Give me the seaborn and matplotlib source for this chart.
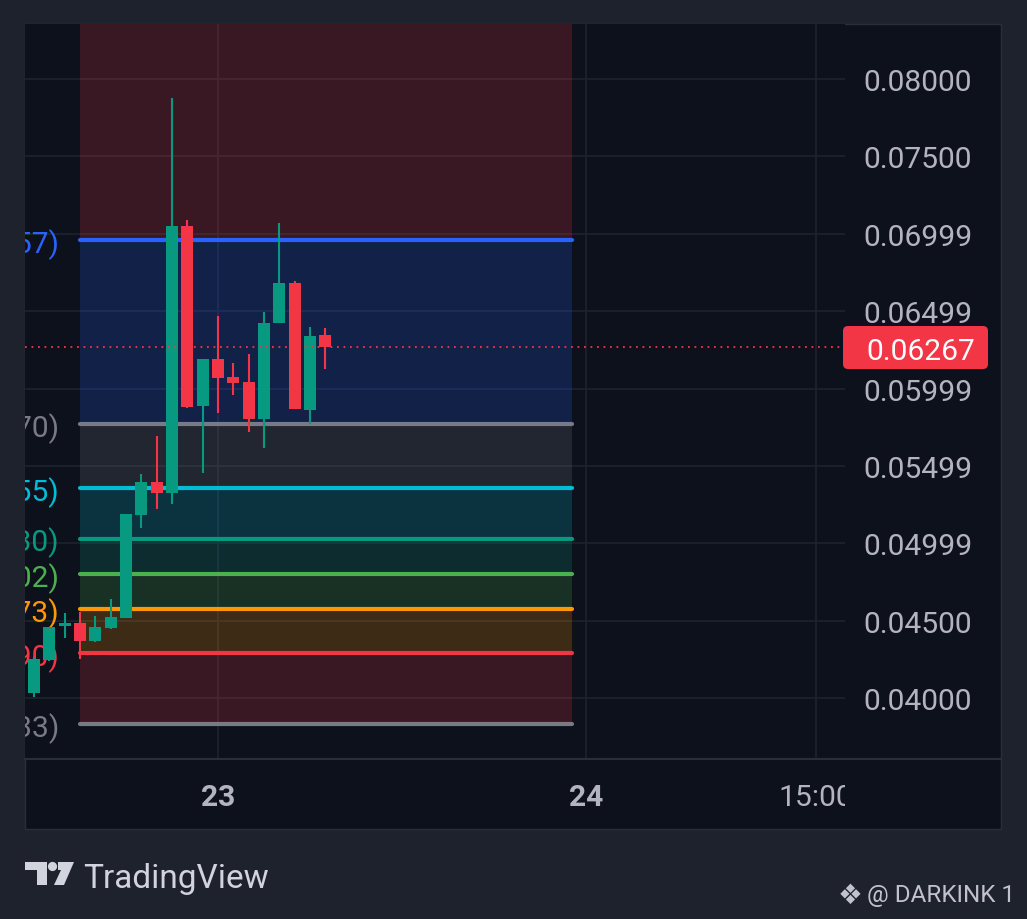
import numpy as np
import pandas as pd
import matplotlib
matplotlib.use("Agg")
import matplotlib.pyplot as plt
import seaborn as sns
from matplotlib.patches import Rectangle, FancyBboxPatch, Polygon, Circle
from matplotlib.transforms import Affine2D, Bbox, TransformedBbox, blended_transform_factory

# ---------------- data ----------------
hours = list(range(-12, 8))  # hourly candles, 0 = 23rd 00:00
opens  = [0.04032, 0.04248, 0.04472, 0.04485, 0.04370, 0.04452, 0.04517, 0.05185, 0.05396, 0.05327,
          0.07050, 0.05887, 0.06191, 0.06074, 0.06042, 0.05805, 0.06425, 0.06682, 0.05863, 0.06346]
highs  = [0.04265, 0.04460, 0.04547, 0.04558, 0.04530, 0.04640, 0.05189, 0.05447, 0.05695, 0.07877,
          0.07089, 0.06191, 0.06468, 0.06165, 0.06223, 0.06494, 0.07069, 0.06695, 0.06397, 0.06391]
lows   = [0.04006, 0.04240, 0.04388, 0.04252, 0.04364, 0.04446, 0.04515, 0.05101, 0.05221, 0.05254,
          0.05874, 0.05456, 0.05844, 0.05958, 0.05721, 0.05618, 0.06425, 0.05870, 0.05773, 0.06128]
closes = [0.04252, 0.04457, 0.04476, 0.04370, 0.04457, 0.04523, 0.05189, 0.05398, 0.05327, 0.07050,
          0.05880, 0.06191, 0.06068, 0.06036, 0.05805, 0.06423, 0.06682, 0.05870, 0.06339, 0.06267]

fib_ratios = ["0", "0.236", "0.382", "0.5", "0.618", "0.786", "1", "1.618"]
fib_prices = [0.03833, 0.04290, 0.04573, 0.04802, 0.05030, 0.05355, 0.05770, 0.06957]
fib_colors = ["#787b86", "#f23645", "#ff9800", "#4caf50", "#089981", "#00bcd4", "#787b86", "#2962ff"]
fib_next_price = 0.08904   # 2.618 level, above the visible range
fib_next_color = "#f23645"
fib_start, fib_end = -9, 23.1

price_ticks = [0.04000, 0.04500, 0.04999, 0.05499, 0.05999, 0.06499, 0.06999, 0.07500, 0.08000]
price_tick_labels = ["0.04000", "0.04500", "0.04999", "0.05499", "0.05999", "0.06499", "0.06999", "0.07500", "0.08000"]
time_ticks = [0, 24, 39]
time_labels = ["23", "24", "15:00"]
time_bold = [True, True, False]
last_price = 0.06267
last_label = "0.06267"

# ---------------- style ----------------
sns.set_theme(style="dark")
plt.rcParams["font.family"] = ["Roboto", "DejaVu Sans"]

W, H = 1027, 920
OUTER = "#1e222d"
BG = "#0d111b"
GRID = "#1d2230"
BORDER = "#2a2e39"
TXT = "#b2b5be"
UP, DOWN = "#089981", "#f23645"
FS = 21.6

fig = plt.figure(figsize=(W / 100, H / 100), dpi=100, facecolor=OUTER)
PX = Affine2D().scale(1, -1).translate(0, H)  # pixel coords, origin top-left

fig.add_artist(Rectangle((25, 25), 976, 805, transform=PX, facecolor=BG,
                         edgecolor=BORDER, lw=1, zorder=0))

ax = fig.add_axes([25 / W, 1 - 760 / H, 820 / W, 735 / H])
ax.set_facecolor(BG)
for s in ax.spines.values():
    s.set_visible(False)

k = 0.04 / 619.0
ax.set_xlim(-12.587, 40.89)
ax.set_ylim(0.08 - (760 - 80) * k, 0.08 + (80 - 25) * k)

# grid
for p in price_ticks:
    ax.axhline(p, color=GRID, lw=1.2, zorder=0.5)
for t in time_ticks:
    ax.axvline(t, color=GRID, lw=1.2, zorder=0.5)

# fib zones
levels = fib_prices + [fib_next_price]
zcolors = fib_colors + [fib_next_color]
for i in range(1, len(levels)):
    ax.fill_between([fib_start, fib_end], levels[i - 1], levels[i], color=zcolors[i],
                    alpha=0.2, lw=0, zorder=1)
for r, p, c in zip(fib_ratios, fib_prices, fib_colors):
    ax.plot([fib_start, fib_end], [p, p], color=c, lw=3, solid_capstyle="round", zorder=2)
    ax.text(-10.35, p, f"{r}({p:.5f})", color=c, ha="right", va="center_baseline",
            fontsize=FS, clip_on=True, zorder=2)

# candles
df = pd.DataFrame({"h": hours, "o": opens, "hi": highs, "lo": lows, "c": closes})
df["col"] = np.where(df["c"] >= df["o"], UP, DOWN)
minh = 2.5 * k
body_lo = np.minimum(df["o"], df["c"])
body_h = np.maximum(np.abs(df["c"] - df["o"]), minh)
body_lo = np.where(np.abs(df["c"] - df["o"]) < minh, (df["o"] + df["c"]) / 2 - minh / 2, body_lo)
ax.vlines(df["h"], df["lo"], df["hi"], colors=df["col"], lw=1.5, zorder=3)
ax.bar(df["h"], body_h, bottom=body_lo, width=0.78, color=df["col"], lw=0, zorder=4)

# last price line
ax.axhline(last_price, color=DOWN, lw=1.3, ls=(0, (1, 2.6)), zorder=5)

# price axis
ax.yaxis.tick_right()
ax.set_yticks(price_ticks, price_tick_labels)
ax.tick_params(axis="y", length=0, pad=13, labelsize=FS, labelcolor=TXT)
ax.set_xticks([])
ax.grid(False)

# time labels
clipbox = TransformedBbox(Bbox([[0, -0.2], [1, 0]]), ax.transAxes)
btf = blended_transform_factory(ax.transData, ax.transAxes)
for t, lab, b in zip(time_ticks, time_labels, time_bold):
    tx = ax.text(t, -35 / 735, lab, transform=btf, ha="center", va="center_baseline",
                 fontsize=FS, color=TXT, fontweight="bold" if b else "normal")
    tx.set_clip_on(True)
    tx.set_clip_box(clipbox)

# separator between plot and time axis
fig.add_artist(plt.Line2D([25, 1001], [760, 760], transform=PX, color=BORDER, lw=1.5))

# last price tag
fig.add_artist(FancyBboxPatch((843, 327), 145, 43, boxstyle="round,pad=0,rounding_size=5",
                              transform=PX, facecolor=DOWN, edgecolor="none", zorder=6))
fig.text(866, 349, last_label, transform=PX, color="white", fontsize=FS,
         ha="left", va="center_baseline", zorder=7)

# TradingView logo + text
LOGO = "#d1d4dc"
fig.add_artist(Polygon([(25, 863), (47, 863), (47, 886), (37, 886), (37, 871), (25, 871)],
                       closed=True, transform=PX, facecolor=LOGO, edgecolor="none"))
fig.add_artist(Circle((52.5, 867.5), 4.6, transform=PX, facecolor=LOGO, edgecolor="none"))
fig.add_artist(Polygon([(58, 863), (74, 863), (64, 886), (54, 886), (61, 871), (58, 871)],
                       closed=True, transform=PX, facecolor=LOGO, edgecolor="none"))
fig.text(83, 876, "TradingView", transform=PX, color=LOGO, fontsize=24,
         ha="left", va="center_baseline")

# watermark
fig.text(850, 893, "❖", transform=PX, color="#c0c3cc", fontsize=20, ha="center",
         va="center_baseline", family="DejaVu Sans")
fig.text(1015, 893, "@ DARKINK 1", transform=PX, color="#c0c3cc", fontsize=17.5,
         ha="right", va="center_baseline")

fig.savefig("out.png", dpi=100, facecolor=OUTER)
